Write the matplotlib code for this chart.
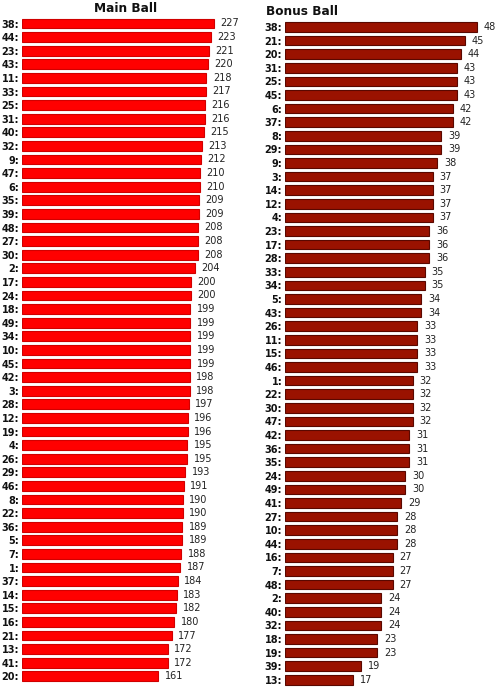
import matplotlib
matplotlib.use("Agg")
import matplotlib.pyplot as plt

# main ball draw counts, sorted as in the chart
main_balls = [38, 44, 23, 43, 11, 33, 25, 31, 40, 32, 9, 47, 6, 35, 39, 48, 27, 30, 2, 17,
              24, 18, 49, 34, 10, 45, 42, 3, 28, 12, 19, 4, 26, 29, 46, 8, 22, 36, 5, 7,
              1, 37, 14, 15, 16, 21, 13, 41, 20]
main_counts = [227, 223, 221, 220, 218, 217, 216, 216, 215, 213, 212, 210, 210, 209, 209, 208, 208, 208, 204, 200,
               200, 199, 199, 199, 199, 199, 198, 198, 197, 196, 196, 195, 195, 193, 191, 190, 190, 189, 189, 188,
               187, 184, 183, 182, 180, 177, 172, 172, 161]

# bonus ball draw counts
bonus_balls = [38, 21, 20, 31, 25, 45, 6, 37, 8, 29, 9, 3, 14, 12, 4, 23, 17, 28, 33, 34,
               5, 43, 26, 11, 15, 46, 1, 22, 30, 47, 42, 36, 35, 24, 49, 41, 27, 10, 44, 16,
               7, 48, 2, 40, 32, 18, 19, 39, 13]
bonus_counts = [48, 45, 44, 43, 43, 43, 42, 42, 39, 39, 38, 37, 37, 37, 37, 36, 36, 36, 35, 35,
                34, 34, 33, 33, 33, 33, 32, 32, 32, 32, 31, 31, 31, 30, 30, 29, 28, 28, 28, 27,
                27, 27, 24, 24, 24, 23, 23, 19, 17]

W, H = 501, 692
fig = plt.figure(figsize=(W / 100, H / 100), dpi=100)
fig.patch.set_facecolor("white")

pitch = 13.6


def panel(x0, top, xmax, px_per_unit, balls, counts, color, edge, title, title_x, title_y, val_off):
    n = len(balls)
    w = xmax * px_per_unit
    h = n * pitch
    ax = fig.add_axes([x0 / W, 1 - (top + h) / H, w / W, h / H])
    ypos = list(range(n))
    ax.barh(ypos, counts, height=0.72, color=color, edgecolor=edge, linewidth=0.8)
    ax.set_xlim(0, xmax)
    ax.set_ylim(n - 0.5, -0.5)
    ax.set_yticks(ypos)
    ax.set_yticklabels([f"{b}:" for b in balls], fontsize=7, fontweight="bold", color="#111111")
    ax.tick_params(axis="y", length=0, pad=2)
    ax.set_xticks([])
    for s in ax.spines.values():
        s.set_visible(False)
    ax.patch.set_alpha(0)
    for y, c in zip(ypos, counts):
        ax.annotate(str(c), (c, y), xytext=(val_off, 0), textcoords="offset pixels",
                    ha="right", va="center", fontsize=7, color="#222222", annotation_clip=False)
    fig.text(title_x / W, 1 - title_y / H, title, ha="center", va="center",
             fontsize=8.7, fontweight="bold", color="#111111")
    return ax


panel(22, 16.7, 250, 0.846, main_balls, main_counts, "#ff0000", "#d00000",
      "Main Ball", 125.5, 8.5, 25)
panel(285, 20.2, 53, 3.99, bonus_balls, bonus_counts, "#9a1200", "#5a0800",
      "Bonus Ball", 302, 11.5, 19.5)

fig.savefig("out.png", dpi=100, facecolor="white")
